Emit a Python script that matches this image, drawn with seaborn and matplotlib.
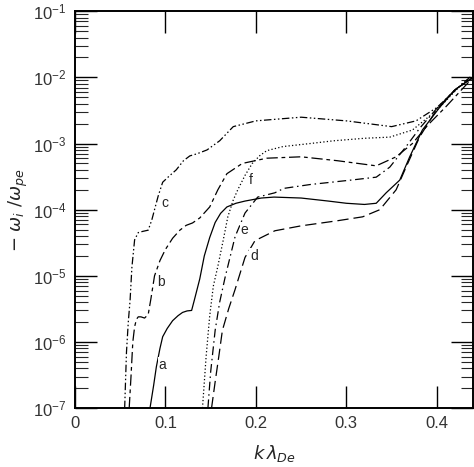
import numpy as np
import pandas as pd
import matplotlib
matplotlib.use("Agg")
import matplotlib.pyplot as plt
import matplotlib.ticker as mticker
import seaborn as sns

# curve values: k*lambda_De vs -omega_i/omega_pe
k_a = [0.083, 0.087, 0.090, 0.094, 0.097, 0.102, 0.108, 0.114, 0.119, 0.124, 0.129, 0.132,
       0.138, 0.143, 0.149, 0.155, 0.161, 0.168, 0.178, 0.188, 0.206, 0.22, 0.25, 0.28,
       0.30, 0.32, 0.333, 0.344, 0.359, 0.37, 0.384, 0.403, 0.42, 0.44]
y_a = [1e-7, 2.2e-7, 4.2e-7, 8e-7, 1.2e-6, 1.6e-6, 2.1e-6, 2.5e-6, 2.8e-6, 2.95e-6, 3.0e-6, 4.3e-6,
       9e-6, 2.0e-5, 3.8e-5, 6.4e-5, 8.8e-5, 1.1e-4, 1.25e-4, 1.35e-4, 1.5e-4, 1.55e-4, 1.5e-4, 1.35e-4,
       1.25e-4, 1.2e-4, 1.25e-4, 1.8e-4, 2.8e-4, 6.3e-4, 1.6e-3, 3.5e-3, 6.5e-3, 1e-2]

k_b = [0.060, 0.062, 0.064, 0.066, 0.068, 0.070, 0.073, 0.077, 0.081, 0.084, 0.088, 0.094,
       0.100, 0.108, 0.116, 0.123, 0.130, 0.138, 0.149, 0.158, 0.168, 0.185, 0.212, 0.25,
       0.29, 0.333, 0.355, 0.373, 0.39, 0.41, 0.44]
y_b = [1e-7, 3e-7, 1e-6, 1.7e-6, 2.2e-6, 2.4e-6, 2.4e-6, 2.3e-6, 2.6e-6, 4.5e-6, 1e-5, 1.7e-5,
       2.5e-5, 3.7e-5, 4.9e-5, 5.8e-5, 6.3e-5, 7.5e-5, 1.1e-4, 2e-4, 3.5e-4, 5e-4, 6e-4, 6.3e-4,
       5.5e-4, 4.6e-4, 6.3e-4, 1e-3, 1.9e-3, 3.6e-3, 1e-2]

k_c = [0.055, 0.057, 0.059, 0.061, 0.063, 0.066, 0.070, 0.075, 0.081, 0.085, 0.088, 0.092,
       0.097, 0.104, 0.112, 0.120, 0.127, 0.135, 0.146, 0.16, 0.175, 0.20, 0.25, 0.30,
       0.35, 0.377, 0.40, 0.428, 0.44]
y_c = [1e-7, 7e-7, 2e-6, 4.3e-6, 1.35e-5, 3.5e-5, 4.5e-5, 4.7e-5, 4.9e-5, 7e-5, 1e-4, 1.6e-4,
       2.6e-4, 3.2e-4, 4e-4, 5.5e-4, 6.5e-4, 7e-4, 8e-4, 1.1e-3, 1.8e-3, 2.2e-3, 2.5e-3, 2.2e-3,
       1.8e-3, 2.2e-3, 3.5e-3, 8e-3, 1.1e-2]

k_d = [0.151, 0.155, 0.159, 0.163, 0.170, 0.177, 0.188, 0.199, 0.221, 0.25, 0.29, 0.318,
       0.337, 0.355, 0.366, 0.381, 0.40, 0.42, 0.44]
y_d = [1e-7, 2.5e-7, 6e-7, 1.5e-6, 3.2e-6, 6.2e-6, 1.9e-5, 3.4e-5, 4.8e-5, 5.7e-5, 6.8e-5, 7.8e-5,
       1e-4, 2e-4, 4.4e-4, 1.26e-3, 3.3e-3, 6.5e-3, 1e-2]

k_e = [0.147, 0.150, 0.155, 0.160, 0.166, 0.177, 0.188, 0.202, 0.221, 0.231, 0.26, 0.305,
       0.333, 0.348, 0.366, 0.381, 0.40, 0.42, 0.44]
y_e = [1e-7, 3.5e-7, 1.5e-6, 4e-6, 9.5e-6, 3.9e-5, 8.9e-5, 1.55e-4, 1.8e-4, 2.1e-4, 2.4e-4, 2.8e-4,
       3.1e-4, 4.4e-4, 9e-4, 1.7e-3, 3.4e-3, 6.5e-3, 1e-2]

k_f = [0.141, 0.145, 0.149, 0.153, 0.158, 0.164, 0.169, 0.175, 0.180, 0.188, 0.196, 0.204,
       0.212, 0.23, 0.26, 0.286, 0.32, 0.348, 0.373, 0.40, 0.428, 0.44]
y_f = [1e-7, 6e-7, 2.5e-6, 7e-6, 1.4e-5, 3.5e-5, 7.8e-5, 1.4e-4, 2e-4, 3.3e-4, 5e-4, 6.5e-4,
       7.8e-4, 9e-4, 1e-3, 1.1e-3, 1.2e-3, 1.25e-3, 1.6e-3, 3.2e-3, 8e-3, 1.05e-2]

curve_names = ["a", "b", "c", "d", "e", "f"]
# where each curve letter is written
label_k = [0.097, 0.095, 0.099, 0.198, 0.187, 0.194]
label_y = [4.5e-7, 8e-6, 1.26e-4, 2e-5, 4.9e-5, 2.8e-4]

x_ticks = [0, 0.1, 0.2, 0.3, 0.4]
x_ticklabels = ["0", "0.1", "0.2", "0.3", "0.4"]

styles = {
    "a": "-",
    "b": (0, (9, 3, 3, 3)),
    "c": (0, (6, 2, 1.2, 2, 1.2, 2)),
    "d": (0, (9, 4)),
    "e": (0, (7, 3, 1.2, 3)),
    "f": (0, (1, 1.8)),
}

frames = []
for name, k, y in zip(curve_names,
                      [k_a, k_b, k_c, k_d, k_e, k_f],
                      [y_a, y_b, y_c, y_d, y_e, y_f]):
    frames.append(pd.DataFrame({"k": k, "gamma": y, "curve": name}))
df = pd.concat(frames, ignore_index=True)

sns.set_style("ticks")
plt.rcParams["font.family"] = ["Liberation Sans", "DejaVu Sans"]
plt.rcParams["mathtext.fontset"] = "dejavusans"

fig = plt.figure(figsize=(4.74, 4.67), dpi=100)
ax = fig.add_axes([0.158, 0.126, 0.84, 0.85])

for name in curve_names:
    sub = df[df["curve"] == name]
    sns.lineplot(data=sub, x="k", y="gamma", ax=ax, color="black",
                 linewidth=0.9, linestyle=styles[name], sort=False,
                 estimator=None)

for name, lk, ly in zip(curve_names, label_k, label_y):
    ax.text(lk, ly, name, fontsize=10, ha="center", va="center",
            bbox=dict(facecolor="white", edgecolor="none", pad=0.5))

ax.set_yscale("log")
ax.set_xlim(0, 0.44)
ax.set_ylim(1e-7, 1e-1)
ax.set_xticks(x_ticks)
ax.set_xticklabels(x_ticklabels)
ax.yaxis.set_major_locator(mticker.LogLocator(base=10, numticks=10))
ax.yaxis.set_minor_locator(mticker.LogLocator(base=10, subs=np.arange(2, 10), numticks=20))
ax.yaxis.set_minor_formatter(mticker.NullFormatter())

ax.tick_params(which="major", direction="in", length=16, width=1.0,
               top=True, right=True, labelsize=12, colors="black", pad=6)
ax.tick_params(which="minor", direction="in", length=9, width=0.8,
               left=True, right=True)
ax.tick_params(axis="x", which="minor", bottom=False, top=False)
for lbl in ax.get_xticklabels() + ax.get_yticklabels():
    lbl.set_color("#333333")

for side in ["left", "right", "top", "bottom"]:
    ax.spines[side].set_linewidth(1.4)
    ax.spines[side].set_color("black")

ax.set_xlabel(r"$k\,\lambda_{De}$", fontsize=13, labelpad=8)
ax.set_ylabel(r"$-\ \omega_i\ /\omega_{pe}$", fontsize=13, labelpad=2)
ax.legend_ = None

fig.savefig("out.png", dpi=100)
